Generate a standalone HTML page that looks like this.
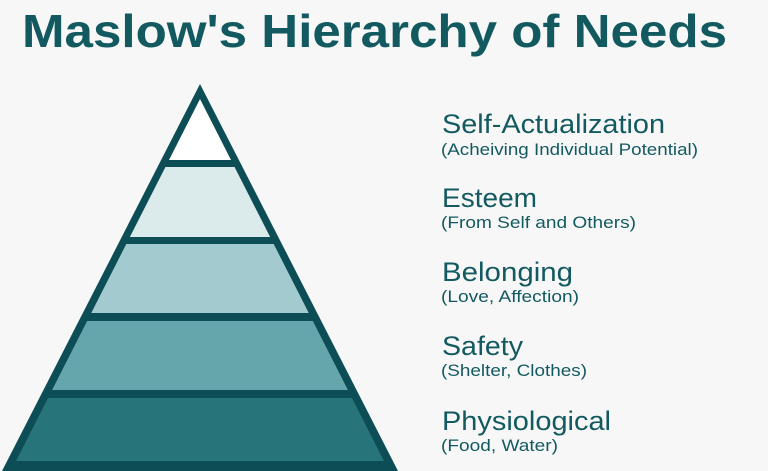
<!DOCTYPE html>
<html><head><meta charset="utf-8"><style>
html,body{margin:0;padding:0;background:#f7f7f7;}
svg{display:block;}
text{font-family:"Liberation Sans",Arial,sans-serif;fill:#135a60;}
</style></head><body>
<svg width="768" height="471" viewBox="0 0 768 471" xmlns="http://www.w3.org/2000/svg">
<rect width="768" height="471" fill="#f7f7f7"/>
<text x="22" y="47" font-size="46" font-weight="bold" fill="#0f5158" textLength="705" lengthAdjust="spacingAndGlyphs">Maslow's Hierarchy of Needs</text>
<defs><clipPath id="c"><polygon points="200,99 16,461 384,461"/></clipPath></defs>
<polygon points="200,84 2,471 398,471" fill="#0d4d55"/>
<g clip-path="url(#c)">
<rect x="0" y="80" width="400" height="80" fill="#ffffff"/>
<rect x="0" y="167" width="400" height="70" fill="#dbebeb"/>
<rect x="0" y="244" width="400" height="69" fill="#a3cbcf"/>
<rect x="0" y="321" width="400" height="69" fill="#65a6ac"/>
<rect x="0" y="398" width="400" height="70" fill="#27757b"/>
</g>
<g font-size="27">
<text x="442" y="133" textLength="223" lengthAdjust="spacingAndGlyphs">Self-Actualization</text>
<text x="442" y="207" textLength="95" lengthAdjust="spacingAndGlyphs">Esteem</text>
<text x="442" y="281" textLength="131" lengthAdjust="spacingAndGlyphs">Belonging</text>
<text x="442" y="355" textLength="81" lengthAdjust="spacingAndGlyphs">Safety</text>
<text x="442" y="430" textLength="169" lengthAdjust="spacingAndGlyphs">Physiological</text>
</g>
<g font-size="17">
<text x="441" y="155" textLength="257" lengthAdjust="spacingAndGlyphs">(Acheiving Individual Potential)</text>
<text x="441" y="228" textLength="195" lengthAdjust="spacingAndGlyphs">(From Self and Others)</text>
<text x="441" y="302" textLength="138" lengthAdjust="spacingAndGlyphs">(Love, Affection)</text>
<text x="441" y="376" textLength="146" lengthAdjust="spacingAndGlyphs">(Shelter, Clothes)</text>
<text x="441" y="451" textLength="117" lengthAdjust="spacingAndGlyphs">(Food, Water)</text>
</g>
</svg>
</body></html>
